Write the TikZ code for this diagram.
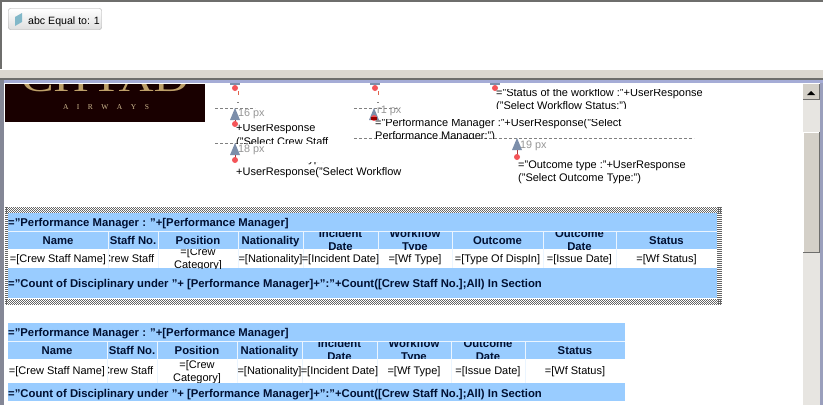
\documentclass[tikz,border=0pt]{standalone}
\usepackage{fontspec}
\setmainfont{Liberation Sans}
\newfontfamily\logofont{Liberation Serif}
\usetikzlibrary{positioning,shapes.geometric}
\definecolor{panelgray}{RGB}{212,208,200}
\definecolor{framegray}{RGB}{110,110,108}
\definecolor{frameblue}{RGB}{165,172,214}
\definecolor{cellblue}{RGB}{153,204,255}
\definecolor{inkblue}{RGB}{0,16,50}
\definecolor{markerblue}{RGB}{124,142,170}
\definecolor{markerred}{RGB}{244,84,88}
\definecolor{logogold}{RGB}{190,160,105}
\definecolor{rulergray}{RGB}{150,150,150}
\tikzset{
  plain/.style={inner sep=0pt,anchor=base west,font=\fontsize{11}{13}\selectfont,text=black},
  cellhead/.style={inner sep=0pt,anchor=base,font=\fontsize{11.3}{13}\selectfont\bfseries,text=inkblue},
  cellbody/.style={inner sep=0pt,anchor=base,font=\fontsize{11}{13}\selectfont,text=black},
  bandtext/.style={inner sep=0pt,anchor=base west,font=\fontsize{11.3}{13}\selectfont\bfseries,text=inkblue},
  pxtext/.style={inner sep=0pt,anchor=base west,font=\fontsize{10.8}{12}\selectfont,text=rulergray},
  rulerline/.style={densely dashed,draw=gray,line width=0.5pt},
  cellline/.style={draw=white!80!cellblue,line width=0.8pt},
  checkline/.style={line width=1pt,dash pattern=on 1pt off 1pt,black!60}
}
% marker: triangle, stem and red dot
\newcommand{\marker}[3]{%
  \fill[markerblue] (#1-5,#2+12) -- (#1,#2) -- (#1+5,#2+12) -- cycle;
  \draw[markerred!70!black,line width=0.5pt] (#1,#2+12) -- (#1,#3);
  \fill[markerred] (#1,#3) circle (3);
}
% text cut off by a box: x1,y1,x2,y2
\newcommand{\cliptext}[5]{%
  \begin{scope}
    \clip (#1,#2) rectangle (#3,#4);
    #5
  \end{scope}
}
% checker band: x1,y1,x2, six rows
\newcommand{\checker}[3]{%
  \foreach \ii in {0,...,5} {
    \pgfmathsetmacro{\phase}{mod(\ii,2)}
    \draw[checkline,dash phase=\phase pt] (#1,#2+\ii+0.5) -- (#3,#2+\ii+0.5);
  }
}

\begin{document}
\begin{tikzpicture}[x=1pt,y=-1pt]
  \useasboundingbox (0,0) rectangle (823,405);
  \fill[white] (0,0) rectangle (823,405);

  % top panel
  \fill[framegray] (0,0) rectangle (823,2);
  \fill[framegray] (0,0) rectangle (2,69);
  \fill[panelgray!85] (0,70) rectangle (823,79);
  \fill[framegray] (0,78) rectangle (823,80);
  \fill[frameblue] (0,80) rectangle (823,83);
  \fill[framegray!60!frameblue] (0,80) rectangle (4,405);

  % button
  \draw[rounded corners=2,draw=gray!70,top color=white,bottom color=gray!25] (8.5,8.5) rectangle (101.5,29.5);
  \fill[blue!25!cyan!40!gray!70] (15,17) -- (22,13) -- (22,22) -- (15,26) -- cycle;
  \node[inner sep=0pt,anchor=base west,font=\fontsize{10.6}{13}\selectfont] (buttontext) at (28,24) {abc Equal to: 1};

  % logo
  \fill[black!90!red] (5,84) rectangle (205,122);
  \cliptext{5}{84}{205}{122}{
    \node[inner sep=0pt,anchor=base,font=\logofont\fontsize{36}{36}\selectfont,text=logogold,xscale=1.35] (logoname) at (105,91) {CHYAD};
    \node[inner sep=0pt,anchor=base,font=\logofont\fontsize{7.5}{8}\selectfont,text=logogold!75] (logoline) at (106,109) {A\hspace{8.5pt}I\hspace{8.5pt}R\hspace{8.5pt}W\hspace{8.5pt}A\hspace{8.5pt}Y\hspace{8.5pt}S};
  }

  % scrollbar
  \fill[panelgray!55] (803,84) rectangle (820,405);
  \fill[frameblue!70!gray] (820,83) rectangle (823,405);
  \draw[fill=panelgray,draw=none] (803,84) rectangle (819,99);
  \draw[framegray,line width=1pt] (803,99) -- (819,99) -- (819,84);
  \fill[black] (807,95) -- (811,91) -- (815,95) -- cycle;
  \fill[panelgray] (803,132) rectangle (819,252);
  \draw[white,line width=0.8pt] (803.5,252) -- (803.5,132.5) -- (819,132.5);
  \draw[framegray,line width=1pt] (803,252) -- (819,252) -- (819,132);

  % rulers
  \draw[rulerline] (215,108) -- (255,108);
  \draw[rulerline] (215,143) -- (255,143);
  \draw[rulerline] (354,108) -- (400,108);
  \draw[rulerline] (354,138) -- (694,138);

  % clipped markers at top
  \fill[markerblue] (370,83) rectangle (380,85);
  \fill[markerblue] (490,83) rectangle (500,85);
  \fill[markerblue] (230,83) rectangle (240,85);
  \fill[markerred] (235,88) circle (3);
  \fill[markerred] (375,88) circle (3);
  \fill[markerred] (495,88) circle (3);
  \draw[markerred!60!brown,line width=0.5pt] (238,91) -- (238,95);
  \draw[markerred!60!brown,line width=0.5pt] (378,91) -- (378,95);
  \fill[gray] (237,101.5) rectangle (239,103);
  \fill[gray] (377,101.5) rectangle (379,103);

  \marker{235}{108}{124}
  \marker{235}{143}{160}
  \marker{374}{108}{118}
  \marker{517}{138}{157}
  \fill[red!60!black] (371,117) rectangle (377,120);

  \node[pxtext] (pxa) at (238,116.5) {16 px};
  \node[pxtext] (pxb) at (238,152) {18 px};
  \node[pxtext] (pxc) at (377,113) {r1 px};
  \node[pxtext] (pxd) at (520,148) {19 px};

  % report fields
  \cliptext{230}{124.5}{360}{143}{
    \node[plain] (crewa) at (236,131) {+UserResponse};
    \node[plain] (crewb) at (236,145) {("Select Crew Staff};
  }
  \cliptext{230}{162.3}{420}{180}{
    \node[plain] (flowa) at (257,162) {Workflow type};
    \node[plain] (flowb) at (236,175) {+UserResponse("Select Workflow};
  }
  \cliptext{370}{119.5}{700}{138}{
    \node[plain] (mgra) at (375,126) {="Performance Manager :"+UserResponse("Select};
    \node[plain] (mgrb) at (375,139.5) {Performance Manager:")};
  }
  \cliptext{490}{89.5}{800}{108}{
    \node[plain] (stata) at (496,96) {="Status of the workflow :"+UserResponse};
    \node[plain] (statb) at (496,109.5) {("Select Workflow Status:")};
  }
  \node[plain] (outa) at (518,168) {="Outcome type :"+UserResponse};
  \node[plain] (outb) at (518,181) {("Select Outcome Type:")};

  % first table
  \checker{5}{207}{722}
  \checker{5}{299}{722}
  \foreach \cc in {0,...,2} {
    \draw[checkline] (5.5+\cc,207) -- (5.5+\cc,304);
  }
  \foreach \cc in {0,...,4} {
    \draw[checkline] (717.5+\cc,207) -- (717.5+\cc,304);
  }
  \fill[cellblue] (8,213) rectangle (717,298);
  \fill[white] (8,249) rectangle (717,268);
  \draw[cellline] (8,231.5) -- (717,231.5);
  \foreach \xx in {108,158,238,303,378,452,543,616} {
    \draw[cellline] (\xx,232) -- (\xx,268);
  }
  \node[bandtext] (titlea) at (8,226) {="Performance Manager : "+[Performance Manager]};
  \node[bandtext] (counta) at (8,287) {="Count of Disciplinary under "+ [Performance Manager]+":"+Count([Crew Staff No.];All) In Section};
  \node[cellhead] (nama) at (58,244) {Name};
  \node[cellhead] (staa) at (133,244) {Staff No.};
  \node[cellhead] (posa) at (198,244) {Position};
  \node[cellhead] (nata) at (270.5,244) {Nationality};
  \node[cellhead] (stsa) at (666.5,244) {Status};
  \node[cellhead] (outca) at (497.5,244) {Outcome};
  \cliptext{303}{232}{617}{249}{
    \node[cellhead] (inca) at (340.5,237) {Incident};
    \node[cellhead] (incb) at (340.5,250) {Date};
    \node[cellhead] (wfa) at (415,237) {Workflow};
    \node[cellhead] (wfb) at (415,250) {Type};
    \node[cellhead] (oda) at (579.5,237) {Outcome};
    \node[cellhead] (odb) at (579.5,250) {Date};
  }
  \node[cellbody] (cna) at (58,262) {=[Crew Staff Name]};
  \cliptext{109.5}{249}{156.5}{268}{
    \node[cellbody] (sna) at (135.5,262) {=[Crew Staff No.]};
  }
  \cliptext{159}{249}{238}{268}{
    \node[cellbody] (cca) at (198,255.5) {=[Crew};
    \node[cellbody] (ccb) at (198,268.5) {Category]};
  }
  \node[cellbody] (nva) at (270.5,262) {=[Nationality]};
  \node[cellbody] (ida) at (340.5,262) {=[Incident Date]};
  \node[cellbody] (wta) at (415,262) {=[Wf Type]};
  \node[cellbody] (tda) at (497.5,262) {=[Type Of DispIn]};
  \node[cellbody] (isa) at (579.5,262) {=[Issue Date]};
  \node[cellbody] (wsa) at (666.5,262) {=[Wf Status]};

  % second table
  \fill[cellblue] (8,323) rectangle (625,401);
  \fill[white] (8,359) rectangle (625,383);
  \draw[cellline] (8,341.5) -- (625,341.5);
  \foreach \xx in {107,157,237,302,377,451,525} {
    \draw[cellline] (\xx,342) -- (\xx,383);
  }
  \node[bandtext] (titleb) at (8,336) {="Performance Manager : "+[Performance Manager]};
  \node[bandtext] (countb) at (8,397) {="Count of Disciplinary under "+ [Performance Manager]+":"+Count([Crew Staff No.];All) In Section};
  \node[cellhead] (namb) at (57,354) {Name};
  \node[cellhead] (stab) at (132,354) {Staff No.};
  \node[cellhead] (posb) at (197,354) {Position};
  \node[cellhead] (natb) at (269.5,354) {Nationality};
  \node[cellhead] (stsb) at (575,354) {Status};
  \cliptext{302}{342}{525}{358.5}{
    \node[cellhead] (incc) at (339.5,347) {Incident};
    \node[cellhead] (incd) at (339.5,360) {Date};
    \node[cellhead] (wfc) at (414,347) {Workflow};
    \node[cellhead] (wfd) at (414,360) {Type};
    \node[cellhead] (odc) at (488,347) {Outcome};
    \node[cellhead] (odd) at (488,360) {Date};
  }
  \node[cellbody] (cnb) at (57,374) {=[Crew Staff Name]};
  \cliptext{108.5}{359}{155.5}{383}{
    \node[cellbody] (snb) at (134.5,374) {=[Crew Staff No.]};
  }
  \cliptext{158}{359}{237}{382}{
    \node[cellbody] (ccc) at (197,368) {=[Crew};
    \node[cellbody] (ccd) at (197,381) {Category]};
  }
  \node[cellbody] (nvb) at (269.5,374) {=[Nationality]};
  \node[cellbody] (idb) at (339.5,374) {=[Incident Date]};
  \node[cellbody] (wtb) at (414,374) {=[Wf Type]};
  \node[cellbody] (isb) at (488,374) {=[Issue Date]};
  \node[cellbody] (wsb) at (575,374) {=[Wf Status]};
\end{tikzpicture}
\end{document}
